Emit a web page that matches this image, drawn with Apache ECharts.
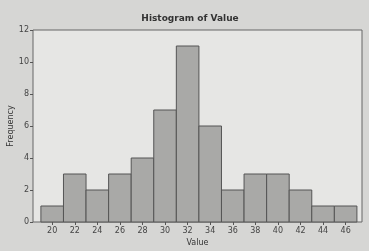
<!DOCTYPE html>
<html><head><meta charset="utf-8">
<script src="https://cdn.jsdelivr.net/npm/echarts@6/dist/echarts.min.js"></script>
<style>html,body{margin:0;padding:0;background:#d6d6d4;}#c{width:369px;height:251px;}</style>
</head><body><div id="c"></div>
<script>
const binCenters = [20,22,24,26,28,30,32,34,36,38,40,42,44,46];
const frequencies = [1,3,2,3,4,7,11,6,2,3,3,2,1,1];
const xTickLabels = [20,22,24,26,28,30,32,34,36,38,40,42,44,46];
const yTickLabels = [0,2,4,6,8,10,12];
const binWidth = 2;

const chart = echarts.init(document.getElementById('c'));
chart.setOption({
  backgroundColor: '#d6d6d4',
  animation: false,
  title: {
    text: 'Histogram of Value', left: 185, top: 9, textAlign: 'center',
    textStyle: {fontFamily: 'DejaVu Sans', fontSize: 9, fontWeight: 'bold', color: '#333'}
  },
  grid: {left: 33, right: 7, top: 30, bottom: 29, show: true, outerBoundsMode: 'none', containLabel: false,
    backgroundColor: '#e6e6e4', borderColor: '#666', borderWidth: 1},
  xAxis: {
    type: 'value', min: 18.3, max: 47.45, name: 'Value', nameLocation: 'middle', nameGap: 17,
    nameMoveOverlap: false,
    nameTextStyle: {fontFamily: 'DejaVu Sans', fontSize: 8, color: '#333'},
    axisLine: {show: false}, splitLine: {show: false},
    axisTick: {show: true, length: 3, customValues: xTickLabels, lineStyle: {color: '#555'}},
    axisLabel: {customValues: xTickLabels, fontFamily: 'DejaVu Sans', fontSize: 8, color: '#444', margin: 5}
  },
  yAxis: {
    type: 'value', min: 0, max: 12, interval: 2, name: 'Frequency', nameLocation: 'middle', nameGap: 18,
    nameMoveOverlap: false,
    nameTextStyle: {fontFamily: 'DejaVu Sans', fontSize: 8, color: '#333'},
    axisLine: {show: false}, splitLine: {show: false},
    axisTick: {show: true, length: 3, lineStyle: {color: '#555'}},
    axisLabel: {fontFamily: 'DejaVu Sans', fontSize: 8, color: '#444', margin: 4}
  },
  series: [{
    type: 'custom',
    data: binCenters.map((c, i) => [c, frequencies[i]]),
    encode: {x: 0, y: 1},
    renderItem: function (params, api) {
      const c = api.value(0), f = api.value(1);
      const p0 = api.coord([c - binWidth / 2, f]);
      const p1 = api.coord([c + binWidth / 2, 0]);
      return {type: 'rect', shape: {x: p0[0], y: p0[1], width: p1[0] - p0[0], height: p1[1] - p0[1]},
        style: {fill: '#a9a9a7', stroke: '#555', lineWidth: 1}};
    }
  }]
});
</script></body></html>
